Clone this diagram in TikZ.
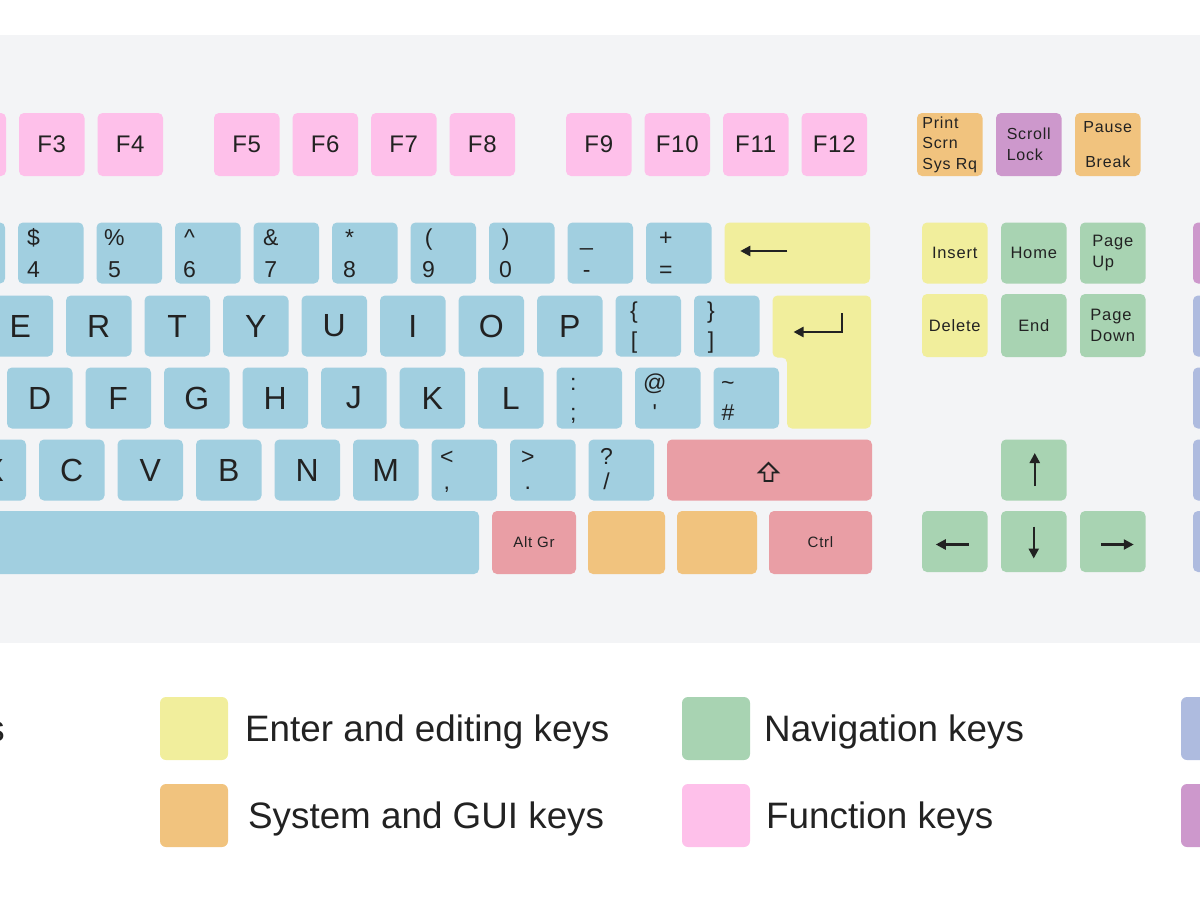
\documentclass[tikz,border=0pt]{standalone}
\usepackage{fontspec}
\setmainfont{Liberation Sans}
\usepackage{tikz}
\usetikzlibrary{positioning, arrows.meta}
\definecolor{cpan}{RGB}{243,244,246}
\definecolor{calp}{RGB}{161,207,224}
\definecolor{cfun}{RGB}{254,192,234}
\definecolor{cedt}{RGB}{241,238,156}
\definecolor{cnav}{RGB}{168,211,178}
\definecolor{csys}{RGB}{241,195,126}
\definecolor{cmod}{RGB}{233,158,165}
\definecolor{clck}{RGB}{205,152,204}
\definecolor{cnum}{RGB}{174,187,223}
\definecolor{ctxt}{RGB}{34,34,34}
\tikzset{
  kbase/.style={rounded corners=5pt, inner sep=0pt, outer sep=0pt, anchor=north west,
                text=ctxt, minimum width=65.5pt, minimum height=61pt},
  kalp/.style={kbase, fill=calp, font=\fontsize{32}{38}\selectfont},
  kfun/.style={kbase, fill=cfun, minimum height=63pt,
               font=\fontsize{24}{28}\selectfont\addfontfeatures{LetterSpace=3}},
  ksml/.style={kbase, align=left, font=\fontsize{16.5}{21}\selectfont\addfontfeatures{LetterSpace=5}},
  kedt/.style={ksml, fill=cedt},
  knav/.style={ksml, fill=cnav},
  ksys/.style={ksml, fill=csys, minimum height=63pt,
               font=\fontsize{16}{20.5}\selectfont\addfontfeatures{LetterSpace=5}},
  kmod/.style={kbase, fill=cmod, font=\fontsize{15}{18}\selectfont\addfontfeatures{LetterSpace=5}},
  klck/.style={ksys, fill=clck},
  knum/.style={kbase, fill=cnum},
  kdual/.style={inner sep=0pt, align=center, text=ctxt, font=\fontsize{23}{#1}\selectfont},
  kdual/.default=30,
  karr/.style={-{Triangle[length=10pt, width=10pt]}, line width=2.4pt, draw=ctxt},
  kleg/.style={rounded corners=6pt, inner sep=0pt, outer sep=0pt, anchor=north west,
               minimum width=68pt, minimum height=63pt},
  ltxt/.style={inner sep=0pt, text=ctxt, text height=26pt, text depth=0pt,
               font=\fontsize{36.8}{44}\selectfont},
}

\begin{document}
\begin{tikzpicture}[x=1pt, y=-1pt, node distance=11pt and 13pt]
  \useasboundingbox (0,0) rectangle (1200,900);
  \clip (0,0) rectangle (1200,900);
  \fill[cpan] (-10,35) rectangle (1210,643);

  % function keys
  \node[kfun] (f2) at (-59.5,113) {};
  \node[kfun, right=of f2] (f3) {F3};
  \node[kfun, right=of f3] (f4) {F4};
  \node[kfun, right=51pt of f4] (f5) {F5};
  \node[kfun, right=of f5] (f6) {F6};
  \node[kfun, right=of f6] (f7) {F7};
  \node[kfun, right=of f7] (f8) {F8};
  \node[kfun, right=51pt of f8] (f9) {F9};
  \node[kfun, right=of f9] (f10) {F10};
  \node[kfun, right=of f10] (f11) {F11};
  \node[kfun, right=of f11] (f12) {F12};
  \node[ksys, right=50pt of f12] (prt) {Print\\Scrn\\Sys Rq};
  \node[klck, right=13.5pt of prt] (scr) {Scroll\\Lock};
  \node[ksys, right=13.5pt of scr, align=center] (pau) {Pause\\[15pt]Break};

  % number row
  \node[kalp] (n3) at (-60.5,222.5) {};
  \node[kalp, right=of n3] (n4) {};
  \node[kalp, right=of n4] (n5) {};
  \node[kalp, right=of n5] (n6) {};
  \node[kalp, right=of n6] (n7) {};
  \node[kalp, right=of n7] (n8) {};
  \node[kalp, right=of n8] (n9) {};
  \node[kalp, right=of n9] (n0) {};
  \node[kalp, right=of n0] (nmin) {};
  \node[kalp, right=of nmin] (neq) {};
  \node[kedt, right=of neq, minimum width=145.5pt] (bsp) {};
  \node[kdual=32, below right=0.6pt and 9pt of n4.north west] (n4t) {\strut\$\\\strut 4};
  \node[kdual=32, below right=0.6pt and 7.5pt of n5.north west] (n5t) {\strut\%\\\strut 5};
  \node[kdual=32, below right=0.6pt and 8pt of n6.north west] (n6t) {\strut\textasciicircum\\\strut 6};
  \node[kdual=32, below right=0.6pt and 9.5pt of n7.north west] (n7t) {\strut\&\\\strut 7};
  \node[kdual=32, below right=0.6pt and 11pt of n8.north west] (n8t) {\strut *\\\strut 8};
  \node[kdual=32, below right=0.6pt and 11.5pt of n9.north west] (n9t) {\strut (\\\strut 9};
  \node[kdual=32, below right=0.6pt and 10pt of n0.north west] (n0t) {\strut )\\\strut 0};
  \node[kdual=32, below right=0.6pt and 12.5pt of nmin.north west] (nmint) {\strut\_\\\strut -};
  \node[kdual=32, below right=0.6pt and 13pt of neq.north west] (neqt) {\strut +\\\strut =};

  % top letter row
  \node[kalp] (ke) at (-12.5,295.5) {E};
  \node[kalp, right=of ke] (kr) {R};
  \node[kalp, right=of kr] (kt) {T};
  \node[kalp, right=of kt] (ky) {Y};
  \node[kalp, right=of ky] (ku) {U};
  \node[kalp, right=of ku] (ki) {I};
  \node[kalp, right=of ki] (ko) {O};
  \node[kalp, right=of ko] (kp) {P};
  \node[kalp, right=of kp] (klb) {};
  \node[kalp, right=of klb] (krb) {};
  \node[kdual, below right=1.5pt and 14.5pt of klb.north west] (klbt) {\strut\{\\\strut[};
  \node[kdual, below right=1.5pt and 13pt of krb.north west] (krbt) {\strut\}\\\strut]};

  % enter
  \coordinate (ent) at (772.5,295.5);
  \fill[cedt, rounded corners=5pt] (ent) -- ++(98.5,0) -- ++(0,133) -- ++(-84,0)
    -- ++(0,-71) -- ++(-14.5,0) -- cycle;
  \draw[karr, shift={(ent)}] (69.5,17.5) -- (69.5,36.5) -- (21,36.5);

  % home row
  \node[kalp] (ks) at (-71.5,367.5) {};
  \node[kalp, right=of ks] (kd) {D};
  \node[kalp, right=of kd] (kf) {F};
  \node[kalp, right=of kf] (kg) {G};
  \node[kalp, right=of kg] (kh) {H};
  \node[kalp, right=of kh] (kj) {J};
  \node[kalp, right=of kj] (kk) {K};
  \node[kalp, right=of kk] (kl) {L};
  \node[kalp, right=of kl] (ksc) {};
  \node[kalp, right=of ksc] (kat) {};
  \node[kalp, right=of kat] (kha) {};
  \node[kdual, below right=1.5pt and 13.5pt of ksc.north west] (ksct) {\strut :\\\strut ;};
  \node[kdual, below right=1.5pt and 8pt of kat.north west] (katt) {\strut @\\\strut\textquotesingle};
  \node[kdual, below right=1.5pt and 7.5pt of kha.north west] (khat) {\strut\textasciitilde\\\strut\#};

  % bottom row
  \node[kalp] (kx) at (-39.5,439.5) {X};
  \node[kalp, right=of kx] (kc) {C};
  \node[kalp, right=of kc] (kv) {V};
  \node[kalp, right=of kv] (kbb) {B};
  \node[kalp, right=of kbb] (kn) {N};
  \node[kalp, right=of kn] (km) {M};
  \node[kalp, right=of km] (klt) {};
  \node[kalp, right=of klt] (kgt) {};
  \node[kalp, right=of kgt] (ksl) {};
  \node[kmod, right=of ksl, minimum width=205pt] (rsh) {};
  \node[kdual=25, below right=7.5pt and 8.5pt of klt.north west] (kltt) {\strut <\\\strut ,};
  \node[kdual=25, below right=7.5pt and 11pt of kgt.north west] (kgtt) {\strut >\\\strut .};
  \node[kdual=25, below right=7.5pt and 11.5pt of ksl.north west] (kslt) {\strut ?\\\strut /};
  \draw[line width=1.8pt, ctxt, shift={(rsh.center)}] (-1,-7) -- (8.5,2.5) -- (3,2.5)
    -- (3,11) -- (-5,11) -- (-5,2.5) -- (-10.5,2.5) -- cycle;

  % space row
  \node[kmod, minimum width=84pt, minimum height=63pt] (agr) at (492,511) {Alt Gr};
  \node[kalp, minimum width=600pt, minimum height=63pt, left=of agr] (spc) {};
  \node[ksys, minimum width=77pt, right=12pt of agr] (win) {};
  \node[ksys, minimum width=80pt, right=12pt of win] (mnu) {};
  \node[kmod, minimum width=103pt, minimum height=63pt, right=12pt of mnu] (rct) {Ctrl};

  % editing and navigation
  \node[kedt] (ins) at (922,222.5) {Insert};
  \node[knav, right=13.5pt of ins] (hom) {Home};
  \node[knav, right=13.5pt of hom] (pgu) {Page\\Up};
  \node[kedt, minimum height=63pt] (dlt) at (922,294) {Delete};
  \node[knav, minimum height=63pt, right=13.5pt of dlt] (ned) {End};
  \node[knav, minimum height=63pt, right=13.5pt of ned] (pgd) {Page\\Down};
  \node[knav] (aup) at (1001,439.5) {};
  \node[knav] (alf) at (922,511) {};
  \node[knav, right=13.5pt of alf] (adn) {};
  \node[knav, right=13.5pt of adn] (art) {};
  \draw[karr, shift={(bsp.center)}] (-10,-2) -- (-57,-2);
  \draw[karr, shift={(aup.center)}] (1,16) -- (1,-17);
  \draw[karr, shift={(adn.center)}] (0,-15) -- (0,17);
  \draw[karr, shift={(alf.center)}] (14,3) -- (-19,3);
  \draw[karr, shift={(art.center)}] (-12,3) -- (21,3);

  % numeric pad
  \node[klck, minimum height=61pt] (nlk) at (1193,222.5) {};
  \node[knum] (np7) at (1193,295.5) {};
  \node[knum] (np4) at (1193,367.5) {};
  \node[knum] (np1) at (1193,439.5) {};
  \node[knum] (np0) at (1193,511) {};

  % legend
  \node[ltxt, anchor=base east] (lt0) at (5,741.5) {s};
  \node[kleg, fill=cedt] (lg1) at (160,697) {};
  \node[ltxt, right=17pt of lg1] (lt1) {Enter and editing keys};
  \node[kleg, fill=csys] (lg2) at (160,784) {};
  \node[ltxt, right=20pt of lg2] (lt2) {System and GUI keys};
  \node[kleg, fill=cnav] (lg3) at (682,697) {};
  \node[ltxt, right=14pt of lg3] (lt3) {Navigation keys};
  \node[kleg, fill=cfun] (lg4) at (682,784) {};
  \node[ltxt, right=16pt of lg4] (lt4) {Function keys};
  \node[kleg, fill=cnum] (lg5) at (1181,697) {};
  \node[kleg, fill=clck] (lg6) at (1181,784) {};
\end{tikzpicture}
\end{document}
